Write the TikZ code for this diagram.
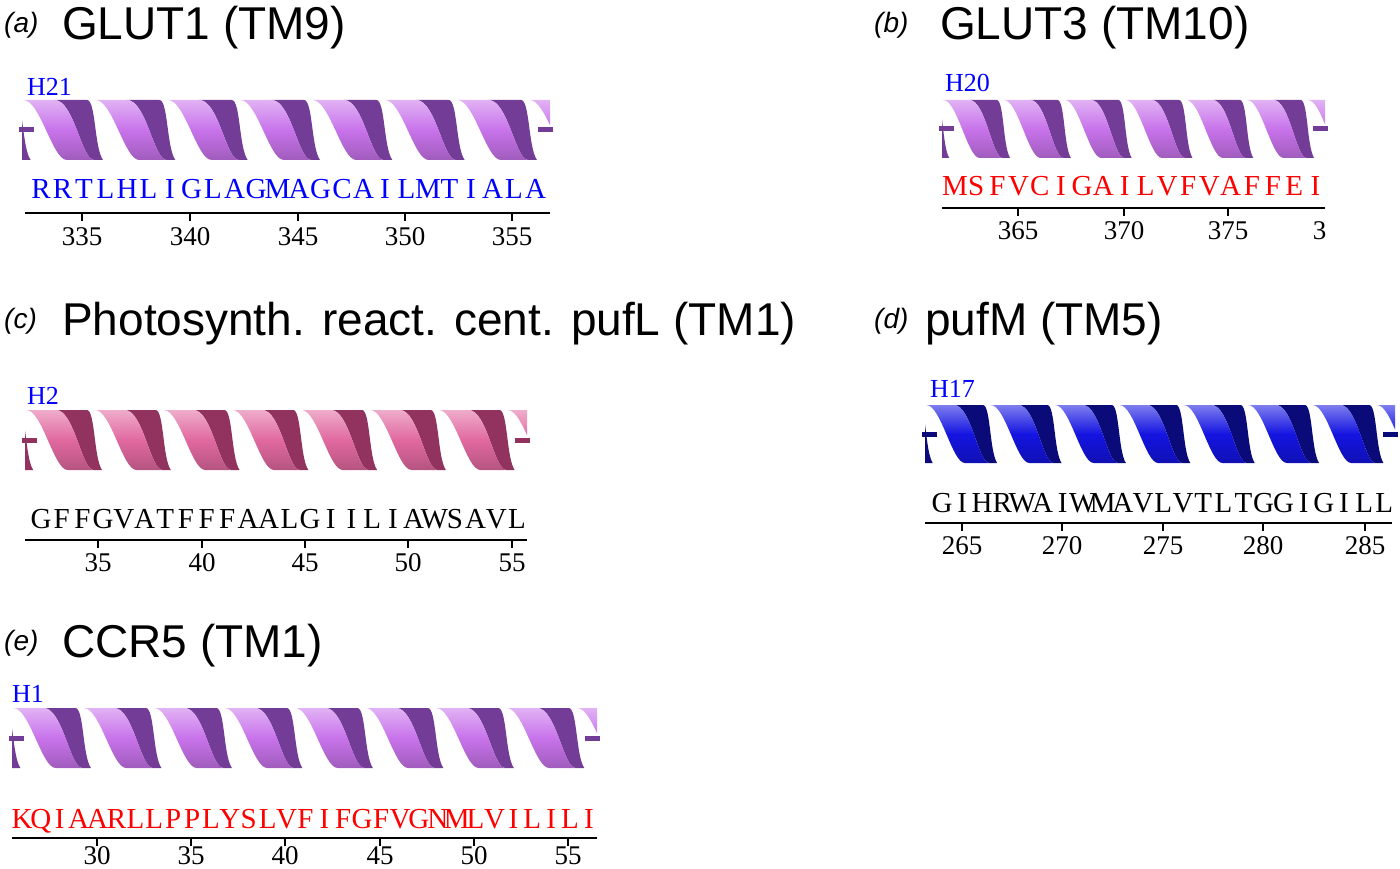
\documentclass[tikz,border=0pt]{standalone}
\usepackage{fontspec}
\setmainfont{Liberation Serif}
\newfontfamily\hv{Liberation Sans}
\definecolor{pf}{RGB}{200,115,235}\definecolor{pd}{RGB}{115,60,150}
\definecolor{kf}{RGB}{225,105,160}\definecolor{kd}{RGB}{145,50,95}
\definecolor{bf}{RGB}{20,20,225}\definecolor{bd}{RGB}{10,10,120}
\definecolor{rd}{RGB}{255,0,0}\definecolor{bl}{RGB}{0,0,255}
\tikzset{ttl/.style={anchor=base west,font=\hv\fontsize{46}{46}\selectfont,inner sep=0},
lab/.style={anchor=base west,font=\hv\itshape\fontsize{28}{28}\selectfont,inner sep=0},
hl/.style={anchor=base west,text=bl,font=\fontsize{26}{26}\selectfont,inner sep=0},
seq/.style={anchor=base,font=\fontsize{29}{29}\selectfont,inner sep=0},
num/.style={anchor=base,font=\fontsize{27}{27}\selectfont,inner sep=0}}
% helix: x0 x1 top bot turns front dark
\newcommand\myhelix[7]{%
 \pgfmathsetmacro\pp{(#2-#1)/(#5+0.3)}%
 \pgfmathsetmacro\mid{(#3+#4)/2}%
 \fill[#7] (#1-3,\mid-2.5) rectangle (#1+12,\mid+2.5);
 \fill[#7] (#2-12,\mid-2.5) rectangle (#2+3,\mid+2.5);
 \begin{scope}
 \clip (#1,#3-5) rectangle (#2,#4+5);
 \foreach \i in {-1,...,#5}{%
  \pgfmathsetmacro\xs{#1+\i*\pp}%
  \fill[#7] (\xs+0.45*\pp,#3) .. controls (\xs+0.72*\pp,#3) and (\xs+0.82*\pp,#4) .. (\xs+1.0*\pp,#4)
    -- (\xs+1.12*\pp,#4) .. controls (\xs+1.0*\pp,#4-12) and (\xs+1.02*\pp,#3) .. (\xs+0.9*\pp,#3) -- cycle;
 }
 \foreach \i in {-1,...,#5}{%
  \pgfmathsetmacro\xs{#1+\i*\pp}%
  \shade[top color=#6!55!white,bottom color=#6!80!black,middle color=#6]
    (\xs+0.02*\pp,#3) .. controls (\xs+0.0*\pp,#3) .. (\xs+0.45*\pp,#3) .. controls (\xs+0.72*\pp,#3) and (\xs+0.82*\pp,#4) .. (\xs+1.0*\pp,#4)
    -- (\xs+0.62*\pp,#4) .. controls (\xs+0.42*\pp,#4) and (\xs+0.25*\pp,#3) .. cycle;
 }
 \end{scope}}
% sequence: x0 x1 first-center spacing y color letters
\newcommand\myseq[7]{%
 \begin{scope}\clip (#1,#5-25) rectangle (#2,#5+8);
 \foreach \c [count=\k from 0] in {#7}{\node[seq,text=#6] at (#3+\k*#4,#5) {\c};}
 \end{scope}}
\begin{document}
\begin{tikzpicture}[x=1pt,y=-1pt]
\useasboundingbox (0,0) rectangle (1400,869);
% (a)
\node[lab] (la) at (4,33) {(a)};
\node[ttl] (ta) at (62,40) {GLUT1 (TM9)};
\node[hl] (ha) at (27,96) {H21};
\myhelix{22}{550}{100}{160}{7}{pf}{pd}
\myseq{25}{550}{41}{21.5}{199}{bl}{R,R,T,L,H,L,I,G,L,A,G,M,A,G,C,A,I,L,M,T,I,A,L,A,I}
\draw[line width=1.5] (25,213) -- (550,213);
\foreach \t/\x in {335/82,340/190,345/298,350/405,355/512}{\draw[line width=1.2] (\x,213) -- (\x,221); \node[num] at (\x,246) {\t};}
% (b)
\node[lab] (lb) at (874,33) {(b)};
\node[ttl] (tb) at (940,40) {GLUT3 (TM10)};
\node[hl] (hb) at (945,92) {H20};
\myhelix{942}{1325}{100}{158}{6}{pf}{pd}
\myseq{942}{1325}{955}{21.2}{196}{rd}{M,S,F,V,C,I,G,A,I,L,V,F,V,A,F,F,E,I,G}
\draw[line width=1.5] (942,208) -- (1325,208);
\foreach \t/\x in {365/1018,370/1124,375/1228}{\draw[line width=1.2] (\x,208) -- (\x,216); \node[num] at (\x,240) {\t};}
\begin{scope}\clip (1300,200) rectangle (1325,250); \node[num] at (1333,240) {380};\end{scope}
% (c)
\node[lab] (lc) at (4,328) {(c)};
\node[ttl] (tc) at (62,335) {Photosynth. react. cent. pufL (TM1)};
\node[hl] (hc) at (27,404) {H2};
\myhelix{25}{527}{410}{470}{7}{kf}{kd}
\myseq{25}{527}{41}{20.7}{528}{black}{G,F,F,G,V,A,T,F,F,F,A,A,L,G,I,I,L,I,A,W,S,A,V,L,G}
\draw[line width=1.5] (25,540) -- (527,540);
\foreach \t/\x in {35/98,40/202,45/305,50/408,55/512}{\draw[line width=1.2] (\x,540) -- (\x,548); \node[num] at (\x,571) {\t};}
% (d)
\node[lab] (ld) at (874,328) {(d)};
\node[ttl] (td) at (925,335) {pufM (TM5)};
\node[hl] (hd) at (930,397) {H17};
\myhelix{925}{1395}{405}{463}{7}{bf}{bd}
\myseq{925}{1395}{942}{20.1}{512}{black}{G,I,H,R,W,A,I,W,M,A,V,L,V,T,L,T,G,G,I,G,I,L,L}
\draw[line width=1.5] (925,523) -- (1392,523);
\foreach \t/\x in {265/962,270/1062,275/1163,280/1263,285/1365}{\draw[line width=1.2] (\x,523) -- (\x,531); \node[num] at (\x,554) {\t};}
% (e)
\node[lab] (le) at (4,650) {(e)};
\node[ttl] (te) at (62,657) {CCR5 (TM1)};
\node[hl] (he) at (12,702) {H1};
\myhelix{12}{597}{708}{768}{8}{pf}{pd}
\myseq{12}{597}{22}{18.9}{828}{rd}{K,Q,I,A,A,R,L,L,P,P,L,Y,S,L,V,F,I,F,G,F,V,G,N,M,L,V,I,L,I,L,I}
\draw[line width=1.5] (12,838) -- (597,838);
\foreach \t/\x in {30/97,35/191,40/285,45/380,50/474,55/568}{\draw[line width=1.2] (\x,838) -- (\x,846); \node[num] at (\x,864) {\t};}
\end{tikzpicture}
\end{document}
